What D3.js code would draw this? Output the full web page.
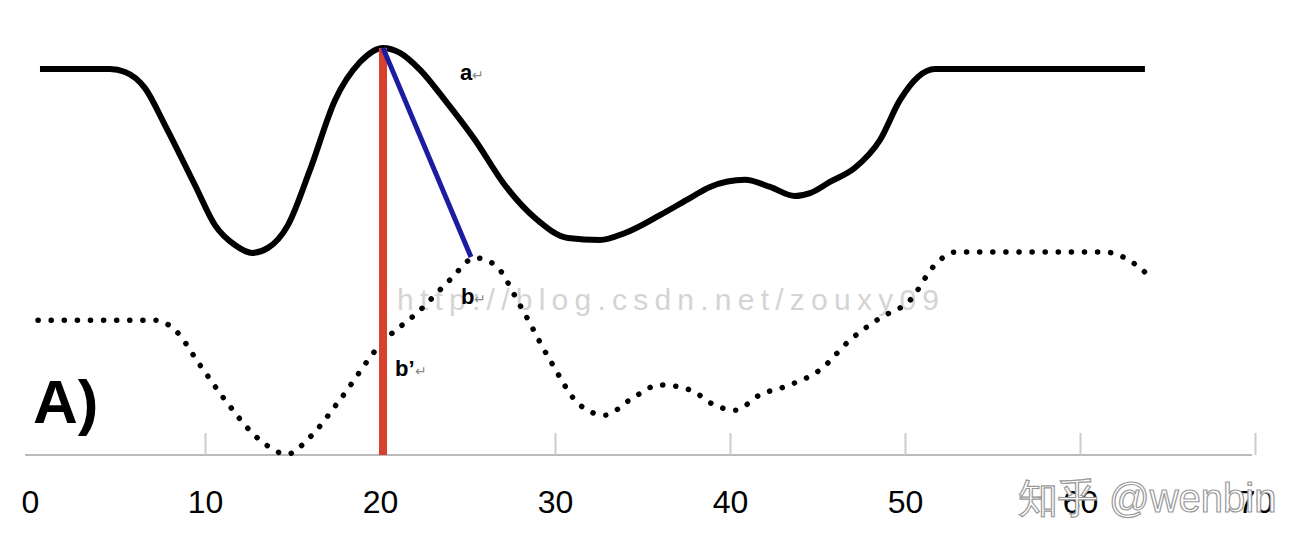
<!DOCTYPE html>
<html>
<head>
<meta charset="utf-8">
<script src="https://cdn.jsdelivr.net/npm/d3@7"></script>
<style>
  body { margin: 0; background: #fff; }
  text { font-family: "Liberation Sans", Arial, sans-serif; }
</style>
</head>
<body>
<div id="chart"></div>
<script>
// Curve a (solid) and curve b (dotted), x in axis units, y in relative amplitude 0..100
var solidX = [0.57, 4.57, 5.43, 6.57, 7.71, 9.43, 10.57, 11.71, 12.69, 13.6, 14.74, 16, 17.43, 18.86, 20.17, 21.14, 22.29, 23.71, 25.43, 27.14, 28.86, 30.74, 32.57, 34, 36, 37.71, 38.86, 40.86, 42.29, 43.71, 44.57, 45.71, 47.14, 48.57, 49.71, 50.74, 51.71, 63.71];
var solidY = [93, 93, 92.3, 88.4, 79.5, 65, 55.4, 50.6, 48.7, 49.9, 55.4, 68.7, 85.5, 94.7, 98.1, 96.9, 92.8, 85.5, 75.9, 65, 57.1, 52.3, 51.8, 53.5, 57.8, 61.9, 64.6, 66.3, 64.6, 62.4, 63.1, 65.8, 69.2, 75.9, 85.5, 91.1, 93, 93];

var dotX = [0.46, 7.14, 8.29, 9.71, 11.14, 13.14, 14.69, 16, 17.71, 20, 22.29, 24, 25.43, 26.57, 28, 29.71, 31.43, 32.86, 34.29, 36, 37.71, 39.14, 40.29, 41.71, 43.43, 45.14, 46.86, 48.57, 50.29, 51.71, 52.86, 55.43, 61.43, 62.57, 63.89];
var dotY = [32.5, 32.5, 30.1, 21.7, 13.3, 3.6, 0.2, 4.3, 13.3, 26.5, 34.9, 42.2, 47.5, 45.8, 36.1, 22.9, 12, 9.6, 13.3, 16.9, 15.7, 12, 10.8, 14.5, 16.9, 20.5, 27.7, 33, 37.3, 45.8, 48.9, 48.9, 48.9, 47.5, 43.4];

var xTicks = [0, 10, 20, 30, 40, 50, 60, 70];
var redX = 20;
var blueFrom = [20.17, 98.1];
var blueTo = [25.2, 47.7];

var svgWidth = 1314, svgHeight = 552;
var svg = d3.select("#chart").append("svg")
  .attr("width", svgWidth).attr("height", svgHeight);

var x = d3.scaleLinear().domain([0, 70]).range([30, 1255]);
var y = d3.scaleLinear().domain([0, 100]).range([455, 40]);

// axis: line + upward ticks
var axis = d3.axisBottom(x).tickValues(xTicks).tickSize(-22).tickFormat(d3.format("d"));
var axisG = svg.append("g").attr("transform", "translate(0,455)").call(axis);
axisG.select(".domain").attr("d", "M25,0H1252").attr("stroke", "#bbb").attr("stroke-width", 2);
axisG.selectAll(".tick line").attr("stroke", "#ccc").attr("stroke-width", 2);
axisG.selectAll(".tick").filter(d => d === 0).select("line").remove();
axisG.selectAll(".tick text").attr("y", 26).attr("dy", "1em")
  .attr("font-size", 32).attr("fill", "#000")
  .attr("font-family", "Liberation Sans, Arial, sans-serif");

// watermark
svg.append("text").attr("x", 397).attr("y", 310)
  .attr("font-family", "Liberation Mono, DejaVu Sans Mono, monospace").attr("font-size", 30)
  .attr("textLength", 542)
  .attr("fill", "#d4d4d4").text("http://blog.csdn.net/zouxy09");

var line = d3.line().curve(d3.curveMonotoneX);

// solid curve a
svg.append("path")
  .attr("d", line(solidX.map((d, i) => [x(d), y(solidY[i])])))
  .attr("fill", "none").attr("stroke", "#000").attr("stroke-width", 6);

// dotted curve b
svg.append("path")
  .attr("d", line(dotX.map((d, i) => [x(d), y(dotY[i])])))
  .attr("fill", "none").attr("stroke", "#000").attr("stroke-width", 5.5)
  .attr("stroke-linecap", "round").attr("stroke-dasharray", "0.1 13");

// red vertical
svg.append("line")
  .attr("x1", x(redX) + 3).attr("x2", x(redX) + 3)
  .attr("y1", y(blueFrom[1])).attr("y2", 455)
  .attr("stroke", "#d9412f").attr("stroke-width", 8);

// blue segment
svg.append("line")
  .attr("x1", x(blueFrom[0])).attr("y1", y(blueFrom[1]))
  .attr("x2", x(blueTo[0])).attr("y2", y(blueTo[1]))
  .attr("stroke", "#1c1ca0").attr("stroke-width", 5);

// labels
function label(t, px, py) {
  var g = svg.append("text").attr("x", px).attr("y", py)
    .attr("font-size", 22).attr("font-weight", "bold").attr("fill", "#000");
  g.append("tspan").text(t);
  g.append("tspan").attr("font-size", 14).attr("font-weight", "normal").attr("fill", "#888").text("↵");
}
label("a", 460, 80);
label("b", 461, 304);
label("b’", 395, 376);

svg.append("text").attr("x", 33).attr("y", 423)
  .attr("font-family", "Liberation Serif, serif").attr("font-weight", "bold")
  .attr("font-size", 62).attr("fill", "#000").text("A)");

// zhihu watermark
svg.append("text").attr("x", 1018).attr("y", 512)
  .attr("font-family", "Noto Sans CJK SC, sans-serif").attr("font-size", 40)
  .attr("fill", "#fff").attr("stroke", "#999").attr("stroke-width", 1.2)
  .text("知乎 @wenbin");
</script>
</body>
</html>
